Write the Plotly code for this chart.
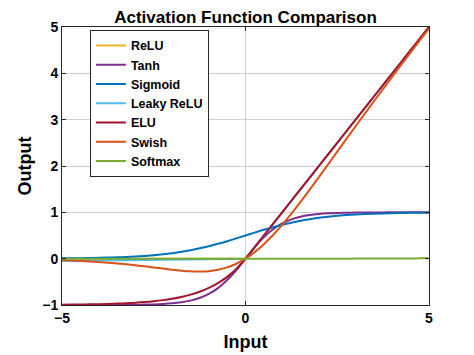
import plotly.graph_objects as go

x = [-5, -4.75, -4.5, -4.25, -4, -3.75, -3.5, -3.25, -3, -2.75, -2.5, -2.25, -2, -1.75, -1.5, -1.25, -1, -0.75, -0.5, -0.25,
     0, 0.25, 0.5, 0.75, 1, 1.25, 1.5, 1.75, 2, 2.25, 2.5, 2.75, 3, 3.25, 3.5, 3.75, 4, 4.25, 4.5, 4.75, 5]

relu = [0]*20 + [0, 0.25, 0.5, 0.75, 1, 1.25, 1.5, 1.75, 2, 2.25, 2.5, 2.75, 3, 3.25, 3.5, 3.75, 4, 4.25, 4.5, 4.75, 5]

tanh = [-0.9999, -0.9998, -0.9998, -0.9996, -0.9993, -0.9989, -0.9982, -0.9970, -0.9951, -0.9919, -0.9866, -0.9780,
        -0.9640, -0.9414, -0.9051, -0.8483, -0.7616, -0.6351, -0.4621, -0.2449, 0.0,
        0.2449, 0.4621, 0.6351, 0.7616, 0.8483, 0.9051, 0.9414, 0.9640, 0.9780, 0.9866, 0.9919, 0.9951, 0.9970,
        0.9982, 0.9989, 0.9993, 0.9996, 0.9998, 0.9998, 0.9999]

sigmoid = [0.0067, 0.0086, 0.0110, 0.0141, 0.0180, 0.0230, 0.0293, 0.0373, 0.0474, 0.0601, 0.0759, 0.0953, 0.1192,
           0.1480, 0.1824, 0.2227, 0.2689, 0.3208, 0.3775, 0.4378, 0.5,
           0.5622, 0.6225, 0.6792, 0.7311, 0.7773, 0.8176, 0.8520, 0.8808, 0.9047, 0.9241, 0.9399, 0.9526, 0.9627,
           0.9707, 0.9770, 0.9820, 0.9859, 0.9890, 0.9914, 0.9933]

leaky = [-0.05, -0.0475, -0.045, -0.0425, -0.04, -0.0375, -0.035, -0.0325, -0.03, -0.0275, -0.025, -0.0225, -0.02,
         -0.0175, -0.015, -0.0125, -0.01, -0.0075, -0.005, -0.0025,
         0, 0.25, 0.5, 0.75, 1, 1.25, 1.5, 1.75, 2, 2.25, 2.5, 2.75, 3, 3.25, 3.5, 3.75, 4, 4.25, 4.5, 4.75, 5]

elu = [-0.9933, -0.9913, -0.9889, -0.9857, -0.9817, -0.9765, -0.9698, -0.9612, -0.9502, -0.9361, -0.9179, -0.8946,
       -0.8647, -0.8262, -0.7769, -0.7135, -0.6321, -0.5276, -0.3935, -0.2212,
       0, 0.25, 0.5, 0.75, 1, 1.25, 1.5, 1.75, 2, 2.25, 2.5, 2.75, 3, 3.25, 3.5, 3.75, 4, 4.25, 4.5, 4.75, 5]

swish = [-0.0335, -0.0408, -0.0494, -0.0598, -0.0719, -0.0862, -0.1025, -0.1212, -0.1423, -0.1653, -0.1897, -0.2144,
         -0.2384, -0.2589, -0.2736, -0.2784, -0.2689, -0.2406, -0.1888, -0.1094, 0.0,
         0.1406, 0.3112, 0.5094, 0.7311, 0.9716, 1.2264, 1.4911, 1.7616, 2.0356, 2.3103, 2.5847, 2.8577, 3.1288,
         3.3975, 3.6638, 3.9281, 4.1902, 4.4506, 4.7092, 4.9665]

softmax = [0.0, 0.0, 0.0, 0.0, 0.0, 0.0, 0.0, 0.0, 0.0, 0.0, 0.0, 0.0, 0.0, 0.0, 0.0, 0.0, 0.0, 0.0, 0.0, 0.0,
           0.0, 0.0, 0.0, 0.0, 0.0, 0.0, 0.0, 0.0, 0.0, 0.0, 0.0, 0.0, 0.001, 0.001, 0.001, 0.002, 0.003, 0.004,
           0.005, 0.007, 0.009]

series = [
    ("ReLU", relu, "#EDB120", "linear"),
    ("Tanh", tanh, "#7E2F8E", "spline"),
    ("Sigmoid", sigmoid, "#0072BD", "spline"),
    ("Leaky ReLU", leaky, "#4DBEEE", "linear"),
    ("ELU", elu, "#A2142F", "spline"),
    ("Swish", swish, "#D95319", "spline"),
    ("Softmax", softmax, "#77AC30", "spline"),
]

fig = go.Figure()
for name, ys, color, shape in series:
    fig.add_trace(go.Scatter(x=x, y=ys, mode="lines", name=name,
                             line=dict(color=color, width=2, shape=shape)))

FONT = "Liberation Sans, Arial, sans-serif"
axis_common = dict(
    showline=True, linecolor="#262626", linewidth=1, mirror="ticks",
    ticks="inside", ticklen=4, tickcolor="#262626",
    showgrid=True, gridcolor="#D0D0D0", gridwidth=1, zeroline=False,
    tickfont=dict(family=FONT, size=14, color="#000000", weight="bold"),
    automargin=False,
)

fig.update_layout(
    width=466, height=347,
    margin=dict(l=54, r=45, t=19, b=50),
    paper_bgcolor="white", plot_bgcolor="white",
    title=dict(text="Activation Function Comparison", xref="paper", x=0.5, xanchor="center",
               yref="container", y=0.99, yanchor="top", pad=dict(t=0, b=0),
               font=dict(family=FONT, size=17, color="#000000", weight="bold")),
    xaxis=dict(range=[-5, 5], tickvals=[-5, 0, 5], **axis_common,
               title=dict(text="Input", standoff=10, font=dict(family=FONT, size=18, color="#000000", weight="bold"))),
    yaxis=dict(range=[-1, 5], tickvals=[-1, 0, 1, 2, 3, 4, 5], **axis_common,
               title=dict(text="Output", standoff=5, font=dict(family=FONT, size=18, color="#000000", weight="bold"))),
    legend=dict(x=0.076, y=0.99, xanchor="left", yanchor="top",
                bgcolor="white", bordercolor="#262626", borderwidth=1,
                font=dict(family=FONT, size=12.5, color="#000000", weight="bold"),
                tracegroupgap=0, itemwidth=30),
    showlegend=True,
)

fig.write_html("out.html")
